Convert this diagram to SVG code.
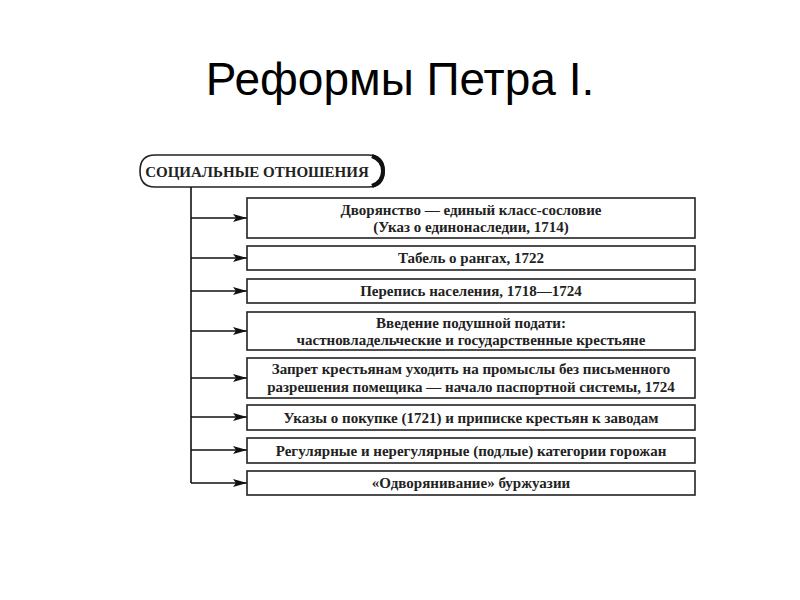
<svg xmlns="http://www.w3.org/2000/svg" width="800" height="600" viewBox="0 0 800 600">
<style>
.b{fill:#fff;stroke:#222;stroke-width:1.6}
.t{font-family:"Liberation Serif",serif;font-size:15px;font-weight:bold;fill:#222;text-anchor:middle}
.c{stroke:#111;stroke-width:1.6;fill:none}
</style>
<defs><marker id="a" markerWidth="14" markerHeight="8" refX="14" refY="4" orient="auto" markerUnits="userSpaceOnUse"><path d="M0,0 L14,4 L0,8 L3,4 Z" fill="#111"/></marker></defs>
<rect width="800" height="600" fill="#fff"/>
<text x="400" y="95" font-family="Liberation Sans,sans-serif" font-size="46" text-anchor="middle" fill="#000">Реформы Петра I.</text>
<g id="header"><path d="M155,155 H368 Q384,155 384,171 Q384,187 368,187 H155 Q140,187 140,171 Q140,155 155,155 Z" class="b"/><path d="M372,156 Q383,160 383,171 Q383,182 372,186" stroke="#111" stroke-width="4" fill="none"/><text x="257" y="177" class="t" font-size="16">СОЦИАЛЬНЫЕ ОТНОШЕНИЯ</text></g>
<g id="connectors">
<path class="c" d="M191,187 V483"/>
<path class="c" marker-end="url(#a)" d="M191,218 H247"/>
<path class="c" marker-end="url(#a)" d="M191,258 H247"/>
<path class="c" marker-end="url(#a)" d="M191,291 H247"/>
<path class="c" marker-end="url(#a)" d="M191,331 H247"/>
<path class="c" marker-end="url(#a)" d="M191,378 H247"/>
<path class="c" marker-end="url(#a)" d="M191,417 H247"/>
<path class="c" marker-end="url(#a)" d="M191,450 H247"/>
<path class="c" marker-end="url(#a)" d="M191,483 H247"/>
</g>
<g id="n1"><rect class="b" x="247" y="198" width="448" height="40"/><text class="t" x="471" y="215">Дворянство — единый класс-сословие</text><text class="t" x="471" y="232">(Указ о единонаследии, 1714)</text></g>
<g id="n2"><rect class="b" x="247" y="246" width="448" height="24"/><text class="t" x="471" y="263">Табель о рангах, 1722</text></g>
<g id="n3"><rect class="b" x="247" y="279" width="448" height="24"/><text class="t" x="471" y="296">Перепись населения, 1718—1724</text></g>
<g id="n4"><rect class="b" x="247" y="312" width="448" height="38"/><text class="t" x="471" y="328">Введение подушной подати:</text><text class="t" x="471" y="345">частновладельческие и государственные крестьяне</text></g>
<g id="n5"><rect class="b" x="247" y="358" width="448" height="40"/><text class="t" x="471" y="374">Запрет крестьянам уходить на промыслы без письменного</text><text class="t" x="471" y="392">разрешения помещика — начало паспортной системы, 1724</text></g>
<g id="n6"><rect class="b" x="247" y="405" width="448" height="25"/><text class="t" x="471" y="423">Указы о покупке (1721) и приписке крестьян к заводам</text></g>
<g id="n7"><rect class="b" x="247" y="438" width="448" height="25"/><text class="t" x="471" y="456">Регулярные и нерегулярные (подлые) категории горожан</text></g>
<g id="n8"><rect class="b" x="247" y="471" width="448" height="24"/><text class="t" x="471" y="488">«Одворянивание» буржуазии</text></g>
</svg>
